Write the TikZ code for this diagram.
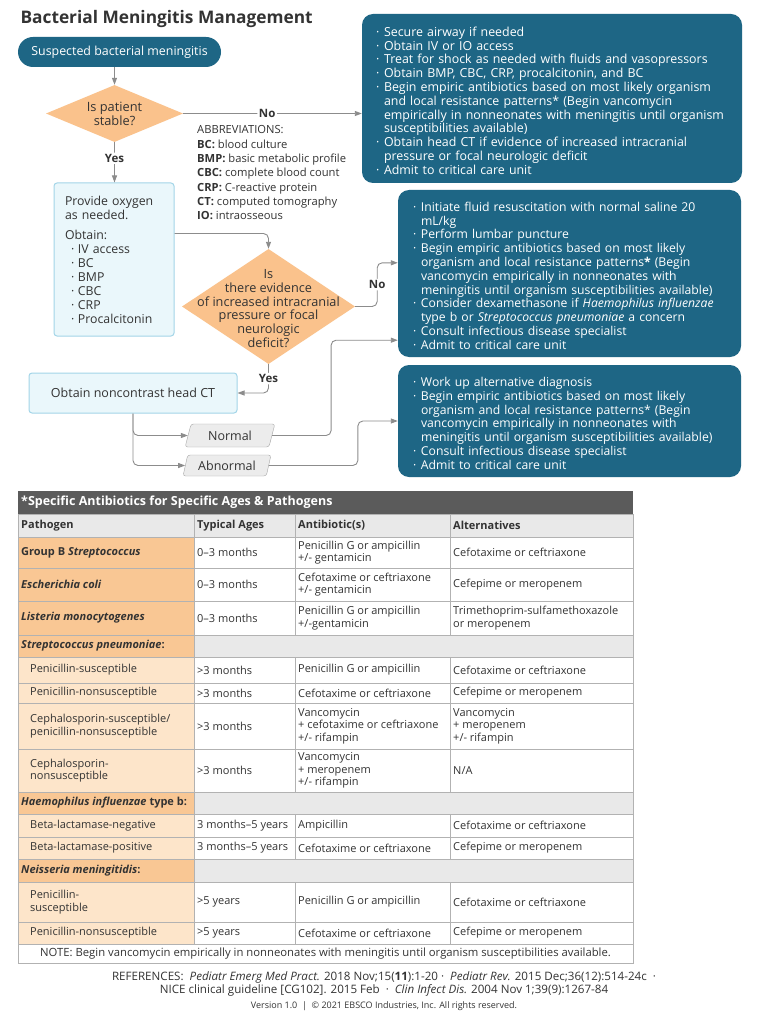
\documentclass[tikz,border=0pt]{standalone}
\usepackage{fontspec}
\setmainfont{Open Sans}
\usepackage{tikz}
\usetikzlibrary{arrows.meta,positioning,shapes.geometric}

\definecolor{tealbg}{HTML}{1E6685}
\definecolor{dgold}{HTML}{FAC28C}
\definecolor{skyfill}{HTML}{EAF7FB}
\definecolor{skyline}{HTML}{A3D5E8}
\definecolor{peachA}{HTML}{F9C794}
\definecolor{peachB}{HTML}{FDE5CA}
\definecolor{hdrgray}{HTML}{E9E9E9}
\definecolor{bargray}{HTML}{5B5B5B}
\definecolor{linegray}{HTML}{8C8C8C}
\definecolor{txtgray}{HTML}{333333}

\newcommand{\flowfont}{\fontsize{12.4}{13.8}\selectfont}
\newcommand{\tabfont}{\fontsize{11}{12.3}\selectfont}
\newcommand{\itm}[1]{\par\hangindent=8pt\hangafter=1\noindent\makebox[8pt][l]{·}#1}

\begin{document}
\begin{tikzpicture}[
    x=1pt, y=-1pt,
    pill/.style={rectangle, rounded corners=15pt, fill=tealbg, text=white, font=\flowfont},
    tealbox/.style={rectangle, rounded corners=11pt, fill=tealbg, text=white, font=\flowfont, align=left, inner sep=0pt},
    skybox/.style={rectangle, rounded corners=3pt, fill=skyfill, draw=skyline, line width=1pt, font=\flowfont, text=txtgray, inner sep=0pt},
    decision/.style={diamond, fill=dgold, inner sep=0pt, aspect=2.4, align=center, font=\fontsize{12.8}{13.8}\selectfont, text=txtgray},
    result/.style={trapezium, trapezium left angle=75, trapezium right angle=105, trapezium stretches=true, draw=gray!70, fill=gray!15, rounded corners=2.5pt, font=\flowfont, text=txtgray, inner sep=2pt},
    arr/.style={-{Triangle[length=7pt,width=5pt]}, draw=linegray, line width=0.9pt, rounded corners=5pt},
    lbl/.style={fill=white, font=\fontsize{11.5}{13}\selectfont\bfseries, text=txtgray, inner sep=1.5pt},
    cell/.style={anchor=west, align=left, font=\tabfont, text=txtgray, inner sep=0pt},
    cellline/.style={draw=gray!60, line width=1pt},
    foot/.style={font=\fontsize{11.6}{13}\selectfont, text=txtgray}
]
\fill[white] (0,0) rectangle (768,1024);
\useasboundingbox (0,0) rectangle (768,1024);

% Nodes
\node[anchor=base west, font=\fontsize{17.3}{20}\selectfont\bfseries, text=txtgray] (title) at (17,24) {Bacterial Meningitis Management};

\node[pill, minimum width=203pt, minimum height=30pt] (start) at (119.5,52) {Suspected bacterial meningitis};

\node[decision, minimum width=137pt, minimum height=57pt] (stable) at (114.5,113.5) {Is patient\\stable?};

\node[tealbox, text width=364pt, minimum width=380pt, minimum height=169pt] (unstable) at (552,98.5) {%
\leftskip=6pt
\itm{Secure airway if needed}
\itm{Obtain IV or IO access}
\itm{Treat for shock as needed with fluids and vasopressors}
\itm{Obtain BMP, CBC, CRP, procalcitonin, and BC}
\itm{Begin empiric antibiotics based on most likely organism\newline and local resistance patterns* (Begin vancomycin\newline empirically in nonneonates with meningitis until organism\newline susceptibilities available)}
\itm{Obtain head CT if evidence of increased intracranial\newline pressure or focal neurologic deficit}
\itm{Admit to critical care unit}\par};

\node[anchor=north west, align=left, inner sep=0pt, font=\fontsize{11.2}{14.3}\selectfont, text=txtgray] (abbr) at (197,125.5) {%
ABBREVIATIONS:\\
\textbf{BC:} blood culture\\
\textbf{BMP:} basic metabolic profile\\
\textbf{CBC:} complete blood count\\
\textbf{CRP:} C-reactive protein\\
\textbf{CT:} computed tomography\\
\textbf{IO:} intraosseous};

\node[skybox, align=left, font=\fontsize{12.3}{14}\selectfont, text width=98pt, minimum width=120pt, minimum height=153pt] (oxy) at (114,259.5) {%
Provide oxygen\\as needed.\\[6pt]
Obtain:\\
\hspace*{6pt}\makebox[7pt][l]{·}IV access\\
\hspace*{6pt}\makebox[7pt][l]{·}BC\\
\hspace*{6pt}\makebox[7pt][l]{·}BMP\\
\hspace*{6pt}\makebox[7pt][l]{·}CBC\\
\hspace*{6pt}\makebox[7pt][l]{·}CRP\\
\hspace*{6pt}\makebox[7pt][l]{·}Procalcitonin};

\node[decision, minimum width=173pt, minimum height=115pt,
  label={[align=center, font=\fontsize{12.7}{13.8}\selectfont, text=txtgray, yshift=-2pt]center:{Is\\there evidence\\of increased intracranial\\pressure or focal\\neurologic\\deficit?}}] (icp) at (268.5,306.5) {};

\node[tealbox, font=\fontsize{12.2}{13.8}\selectfont, text width=313pt, minimum width=343pt, minimum height=167pt] (lp) at (569.5,273.5) {%
\itm{Initiate fluid resuscitation with normal saline 20\newline mL/kg}
\itm{Perform lumbar puncture}
\itm{Begin empiric antibiotics based on most likely\newline organism and local resistance patterns\textbf{*} (Begin\newline vancomycin empirically in nonneonates with\newline meningitis until organism susceptibilities available)}
\itm{Consider dexamethasone if \textit{Haemophilus influenzae}\newline type b or \textit{Streptococcus pneumoniae} a concern}
\itm{Consult infectious disease specialist}
\itm{Admit to critical care unit}\par};

\node[skybox, font=\fontsize{12.5}{14}\selectfont, minimum width=208pt, minimum height=40pt] (ct) at (133,393) {Obtain noncontrast head CT};

\node[result, font=\fontsize{12.5}{14}\selectfont, minimum width=90pt, minimum height=23pt] (normal) at (230,435.5) {Normal};
\node[result, font=\fontsize{12.5}{14}\selectfont, minimum width=88pt, minimum height=21pt] (abnormal) at (227,465.5) {Abnormal};

\node[tealbox, font=\fontsize{12.2}{13.8}\selectfont, text width=313pt, minimum width=343pt, minimum height=112pt] (alt) at (569.5,421) {%
\itm{Work up alternative diagnosis}
\itm{Begin empiric antibiotics based on most likely\newline organism and local resistance patterns* (Begin\newline vancomycin empirically in nonneonates with\newline meningitis until organism susceptibilities available)}
\itm{Consult infectious disease specialist}
\itm{Admit to critical care unit}\par};

% Arrows
\draw[arr] (start.south -| stable.north) -- (stable.north);
\draw[arr] (stable.east) -- node[lbl, pos=0.47] {No} (stable.east -| unstable.west);
\draw[arr] (stable.south) -- node[lbl, pos=0.4] {Yes} (stable.south |- oxy.north);
\draw[arr] ([yshift=-51pt]oxy.north east) -| (icp.north);
\draw[arr] (icp.east) -- ++(22,0) |- node[lbl, pos=0.25] {No} ([yshift=-73pt]lp.north west);
\draw[arr] (icp.south) |- node[lbl, pos=0.25] {Yes} (ct.east);
\draw[arr] (ct.south) |- (normal.west);
\draw[arr] (ct.south) |- (abnormal.west);
\draw[arr] (normal.east) -- ++(59,0) |- ([yshift=17pt]lp.south west);
\draw[arr] (abnormal.east) -- ++(89,0) |- (alt.west);

% Table
\fill[bargray] (18,491) rectangle (633,514);
\node[anchor=west, inner sep=0pt, text=white, font=\fontsize{12.5}{14}\selectfont\bfseries] (tabtitle) at (21,502.5) {*Specific Antibiotics for Specific Ages \& Pathogens};
\fill[hdrgray] (18,514) rectangle (633,537);
\draw[cellline] (18,514) rectangle (194,537) (194,514) rectangle (295,537) (295,514) rectangle (450,537) (450,514) rectangle (633,537);
\foreach \x/\t in {21/Pathogen, 197/Typical Ages, 298/Antibiotic(s), 453/Alternatives}
  \node[cell, font=\tabfont\bfseries] (head-\x) at (\x,525.5) {\t};

\foreach \ya/\yb/\pc/\px/\pt/\ag/\ab/\al in {
  537/568/peachA/21/{\textbf{Group B \textit{Streptococcus}}}/0--3 months/{Penicillin G or ampicillin\\+/- gentamicin}/Cefotaxime or ceftriaxone,
  568/601/peachA/21/{\textbf{\textit{Escherichia coli}}}/0--3 months/{Cefotaxime or ceftriaxone\\+/- gentamicin}/Cefepime or meropenem,
  601/635/peachA/21/{\textbf{\textit{Listeria monocytogenes}}}/0--3 months/{Penicillin G or ampicillin\\+/-gentamicin}/{Trimethoprim-sulfamethoxazole\\or meropenem},
  657/683/peachB/30/Penicillin-susceptible/{>3 months}/Penicillin G or ampicillin/Cefotaxime or ceftriaxone,
  683/703/peachB/30/Penicillin-nonsusceptible/{>3 months}/Cefotaxime or ceftriaxone/Cefepime or meropenem,
  703/749/peachB/30/{Cephalosporin-susceptible/\\penicillin-nonsusceptible}/{>3 months}/{Vancomycin\\+ cefotaxime or ceftriaxone\\+/- rifampin}/{Vancomycin\\+ meropenem\\+/- rifampin},
  749/792/peachB/30/{Cephalosporin-\\nonsusceptible}/{>3 months}/{Vancomycin\\+ meropenem\\+/- rifampin}/{N/A},
  814/837/peachB/30/Beta-lactamase-negative/3 months--5 years/Ampicillin/Cefotaxime or ceftriaxone,
  837/859/peachB/30/Beta-lactamase-positive/3 months--5 years/Cefotaxime or ceftriaxone/Cefepime or meropenem,
  882/922/peachB/30/{Penicillin-\\susceptible}/{>5 years}/Penicillin G or ampicillin/Cefotaxime or ceftriaxone,
  922/944/peachB/30/Penicillin-nonsusceptible/{>5 years}/Cefotaxime or ceftriaxone/Cefepime or meropenem}
{
  \fill[\pc] (18,\ya) rectangle (194,\yb);
  \draw[cellline] (18,\ya) rectangle (194,\yb) (194,\ya) rectangle (295,\yb) (295,\ya) rectangle (450,\yb) (450,\ya) rectangle (633,\yb);
  \node[cell] (path-\ya) at (\px,{(\ya+\yb)/2}) {\pt};
  \node[cell] (age-\ya) at (197,{(\ya+\yb)/2}) {\ag};
  \node[cell] (abx-\ya) at (298,{(\ya+\yb)/2}) {\ab};
  \node[cell] (alt-\ya) at (453,{(\ya+\yb)/2}) {\al};
}

\foreach \ya/\yb/\pt in {
  635/657/{\textbf{\textit{Streptococcus pneumoniae}:}},
  792/814/{\textbf{\textit{Haemophilus influenzae} type b:}},
  859/882/{\textbf{\textit{Neisseria meningitidis}:}}}
{
  \fill[peachA] (18,\ya) rectangle (194,\yb);
  \fill[hdrgray] (194,\ya) rectangle (633,\yb);
  \draw[cellline] (18,\ya) rectangle (194,\yb) (194,\ya) rectangle (633,\yb);
  \node[cell] (group-\ya) at (21,{(\ya+\yb)/2}) {\pt};
}

\draw[cellline] (18,944) rectangle (633,963);
\node[font=\fontsize{11.3}{13}\selectfont, text=txtgray, inner sep=0pt] (note) at (325.5,953.5) {NOTE: Begin vancomycin empirically in nonneonates with meningitis until organism susceptibilities available.};

% Footer
\node[foot] (ref1) at (384,977) {REFERENCES:\ \ \textit{Pediatr Emerg Med Pract.} 2018 Nov;15(\textbf{11}):1-20 · \ \textit{Pediatr Rev.} 2015 Dec;36(12):514-24c \ ·};
\node[foot] (ref2) at (384,990) {NICE clinical guideline [CG102]. 2015 Feb \ · \ \textit{Clin Infect Dis.} 2004 Nov 1;39(9):1267-84};
\node[font=\fontsize{9}{10}\selectfont, text=txtgray] (ver) at (384,1006) {Version 1.0 \ | \ © 2021 EBSCO Industries, Inc. All rights reserved.};
\end{tikzpicture}
\end{document}
